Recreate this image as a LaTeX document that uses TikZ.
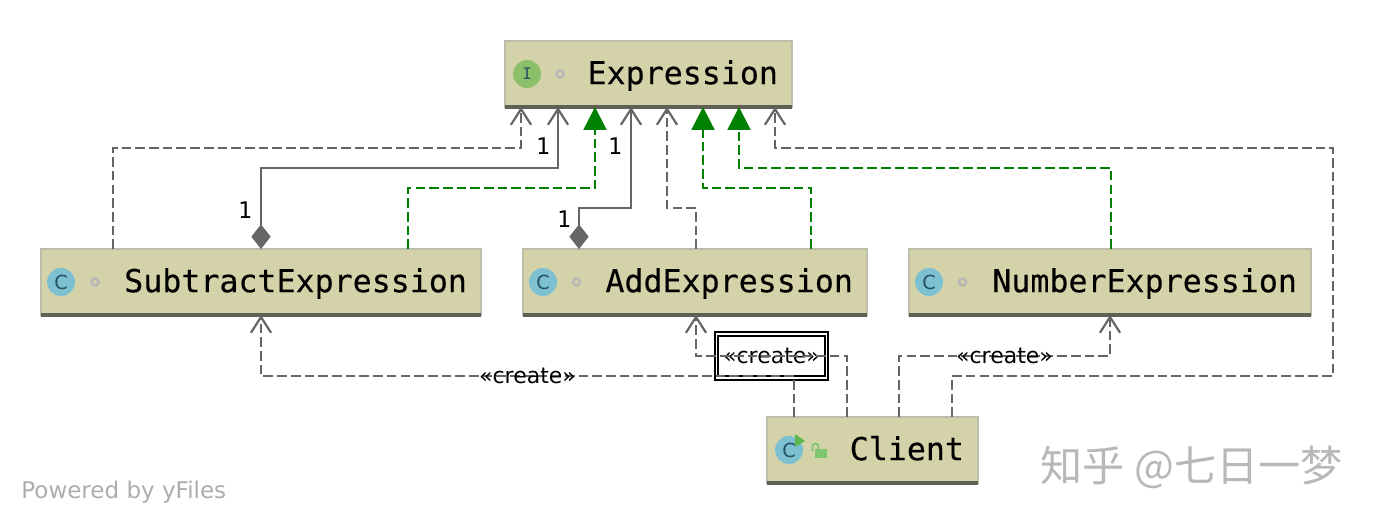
\documentclass[tikz,border=0pt]{standalone}
\usepackage{fontspec}
\usepackage{xcolor}
\usetikzlibrary{positioning, arrows.meta, shapes}
\newfontfamily\classfont[FakeBold=0.25]{DejaVu Sans Mono}
\newfontfamily\iconfont{DejaVu Sans Mono}
\newfontfamily\labelfont{DejaVu Sans}
\newfontfamily\cjk{Noto Sans CJK SC}
\definecolor{boxfill}{HTML}{D3D2A9}
\definecolor{boxedge}{HTML}{BDBDAC}
\definecolor{boxbase}{HTML}{5F5F55}
\definecolor{linkgray}{HTML}{666666}
\definecolor{implgreen}{HTML}{008000}
\definecolor{classteal}{HTML}{7DC0D2}
\definecolor{ifacegreen}{HTML}{8CBF6A}
\definecolor{runcolor}{HTML}{5CB84A}
\definecolor{icontext}{HTML}{25505F}
\tikzset{
    classbox/.style={draw=boxedge, fill=boxfill, line width=1.2pt, outer sep=0pt, inner xsep=0.28cm, inner ysep=0pt,
        minimum height=1.32cm, align=right, text width=#1, text height=15.5pt, text depth=3.9pt,
        font=\classfont\fontsize{18}{20}\selectfont},
    baseline rule/.style={draw=boxbase, line width=1.8pt},
    classicon/.style={circle, fill=classteal, minimum size=0.56cm, inner sep=0pt, outer sep=0pt, text=icontext,
        font=\labelfont\fontsize{11}{11}\selectfont},
    ifaceicon/.style={classicon, fill=ifacegreen, font=\iconfont\fontsize{9}{9}\selectfont},
    ringicon/.style={circle, draw=black!28, line width=1.4pt, fill=boxfill, minimum size=0.14cm, inner sep=0pt, outer sep=0pt},
    dep/.style={draw=linkgray, line width=1.25pt, dash pattern=on 5.5pt off 2.3pt, -{Straight Barb[length=9pt,width=11.5pt]}},
    impl/.style={draw=implgreen, line width=1.25pt, dash pattern=on 5.5pt off 2.3pt, -{Triangle[length=13pt,width=13pt,fill=implgreen]}},
    comp/.style={draw=linkgray, line width=1.25pt, {Diamond[length=14pt,width=11pt,fill=linkgray]}-{Straight Barb[length=9pt,width=11.5pt]}},
    linklabel/.style={solid, text=black, inner sep=1pt, font=\labelfont\fontsize{12.5}{14}\selectfont},
    stereobox/.style={linklabel, behind path, draw=black, double=white, double distance=1.1pt, line width=0.9pt, minimum width=2.2cm, minimum height=0.88cm},
    countlabel/.style={inner sep=0pt, font=\iconfont\fontsize{13}{14}\selectfont},
}
\begin{document}
\begin{tikzpicture}[x=0.02cm, y=-0.02cm]
    \useasboundingbox (0,0) rectangle (1374,524);

    % classes
    \node[classbox=5.18cm] (expr) at (648.5,74) {Expression};
    \node[classbox=8.24cm] (sub) at (261,282) {SubtractExpression};
    \node[classbox=6.32cm] (add) at (695,282) {AddExpression};
    \node[classbox=7.48cm] (num) at (1110,282) {NumberExpression};
    \node[classbox=3.66cm] (client) at (872.5,450) {Client};
    \foreach \n in {expr,sub,add,num,client}
        \draw[baseline rule] (\n.south west) -- (\n.south east);

    % icons
    \node[ifaceicon, right=0.16cm of expr.west] (exprIcon) {I};
    \node[ringicon, right=0.31cm of exprIcon] (exprRing) {};
    \node[classicon, right=0.12cm of sub.west] (subIcon) {C};
    \node[ringicon, right=0.33cm of subIcon] (subRing) {};
    \node[classicon, right=0.12cm of add.west] (addIcon) {C};
    \node[ringicon, right=0.32cm of addIcon] (addRing) {};
    \node[classicon, right=0.12cm of num.west] (numIcon) {C};
    \node[ringicon, right=0.32cm of numIcon] (numRing) {};
    \node[classicon, right=0.16cm of client.west] (clientIcon) {C};
    \fill[runcolor] (795,434) -- (805,441) -- (795,447) -- cycle;
    \fill[runcolor!80!white] (815,449) rectangle (827,458);
    \draw[runcolor!80!white, line width=1pt] (812.5,451) -- (812.5,446.5) arc (180:360:3) -- (818.5,449);

    % create links
    \draw[dep] (847,0 |- client.north) -- (847,356) -- node[stereobox] (createAdd) {«create»} (696,356) -- (696,0 |- add.south);
    \draw[dep] (794,0 |- client.north) -- (794,376) -- node[linklabel] (createSub) {«create»} (261,376) -- (261,0 |- sub.south);
    \draw[dep] (899,0 |- client.north) -- (899,356) -- node[linklabel] (createNum) {«create»} (1110,356) -- (1110,0 |- num.south);

    % inheritance and use
    \draw[dep] (113,0 |- sub.north) -- (113,148) -- (521,148) -- (521,0 |- expr.south);
    \draw[comp] (261,0 |- sub.north) -- (261,168) -- (558,168) -- (558,0 |- expr.south);
    \draw[impl] (408,0 |- sub.north) -- (408,188) -- (595,188) -- (595,0 |- expr.south);
    \draw[comp] (579,0 |- add.north) -- (579,208) -- (631,208) -- (631,0 |- expr.south);
    \draw[dep] (696,0 |- add.north) -- (696,208) -- (667,208) -- (667,0 |- expr.south);
    \draw[impl] (811,0 |- add.north) -- (811,188) -- (703,188) -- (703,0 |- expr.south);
    \draw[impl] (1111,0 |- num.north) -- (1111,168) -- (739,168) -- (739,0 |- expr.south);
    \draw[dep] (952,0 |- client.north) -- (952,376) -- (1333,376) -- (1333,148) -- (775,148) -- (775,0 |- expr.south);

    % multiplicities
    \node[countlabel] (countA) at (543,146) {1};
    \node[countlabel] (countB) at (245,210) {1};
    \node[countlabel] (countC) at (615,146) {1};
    \node[countlabel] (countD) at (564,219) {1};

    \node[anchor=west, inner sep=0pt, text=black!32, font=\labelfont\fontsize{13.1}{14}\selectfont] (powered) at (21,492) {Powered by yFiles};
    \node[anchor=west, inner sep=0pt, text=black!28, font=\cjk\fontsize{24}{26}\selectfont] (mark) at (1040,467) {知乎 @七日一梦};
\end{tikzpicture}
\end{document}
